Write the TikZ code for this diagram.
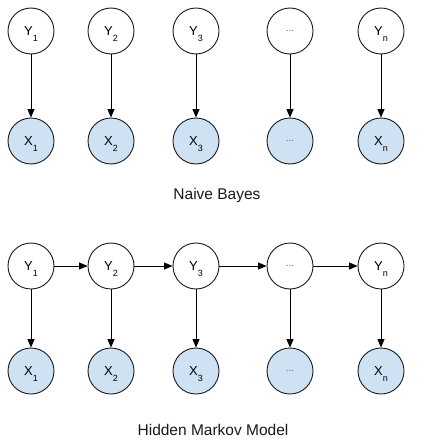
\documentclass[tikz,border=0pt]{standalone}
\usepackage{fontspec}
\setmainfont{Liberation Sans}
\usetikzlibrary{arrows.meta}
\definecolor{obsfill}{HTML}{CFE2F3}
\definecolor{linegray}{HTML}{1A1A1A}
\newcommand{\sbs}[1]{\smash{\raisebox{-6.5pt}{\fontsize{9}{9}\selectfont #1}}}
\tikzset{
  hid/.style={circle, draw=linegray, line width=0.9pt, fill=white, minimum size=46pt, inner sep=0pt, font=\fontsize{13}{13}\selectfont},
  obs/.style={hid, fill=obsfill},
  conn/.style={-{Triangle[length=8.5pt,width=7pt]}, line width=1pt, black},
  captext/.style={font=\fontsize{15.5}{15.5}\selectfont, text=black!90}
}
\newcommand{\dotsl}{{\color{black!60}\fontsize{10}{10}\selectfont ...}}
\begin{document}
\begin{tikzpicture}[x=1pt,y=-1pt]
\useasboundingbox (0,0) rectangle (439,447);
% Naive Bayes
\node[hid] (ya1) at (31,31) {Y\sbs{1}};
\node[hid] (ya2) at (111,31) {Y\sbs{2}};
\node[hid] (ya3) at (196,31) {Y\sbs{3}};
\node[hid] (ya4) at (290,31) {\dotsl};
\node[hid] (ya5) at (381,31) {Y\sbs{n}};
\node[obs] (xa1) at (31,141) {X\sbs{1}};
\node[obs] (xa2) at (111,141) {X\sbs{2}};
\node[obs] (xa3) at (196,141) {X\sbs{3}};
\node[obs] (xa4) at (290,141) {\dotsl};
\node[obs] (xa5) at (381,141) {X\sbs{n}};
\foreach \i in {1,...,5} {\draw[conn] (ya\i) -- (xa\i);}
\node[captext] (nb) at (217,195) {Naive Bayes};
% HMM
\node[hid] (yb1) at (31,266) {Y\sbs{1}};
\node[hid] (yb2) at (111,266) {Y\sbs{2}};
\node[hid] (yb3) at (196,266) {Y\sbs{3}};
\node[hid] (yb4) at (290,266) {\dotsl};
\node[hid] (yb5) at (381,266) {Y\sbs{n}};
\node[obs] (xb1) at (31,371) {X\sbs{1}};
\node[obs] (xb2) at (111,371) {X\sbs{2}};
\node[obs] (xb3) at (196,371) {X\sbs{3}};
\node[obs] (xb4) at (290,371) {\dotsl};
\node[obs] (xb5) at (381,371) {X\sbs{n}};
\foreach \i in {1,...,5} {\draw[conn] (yb\i) -- (xb\i);}
\draw[conn] (yb1) -- (yb2);
\draw[conn] (yb2) -- (yb3);
\draw[conn] (yb3) -- (yb4);
\draw[conn] (yb4) -- (yb5);
\node[captext] (hmm) at (213,430) {Hidden Markov Model};
\end{tikzpicture}
\end{document}
